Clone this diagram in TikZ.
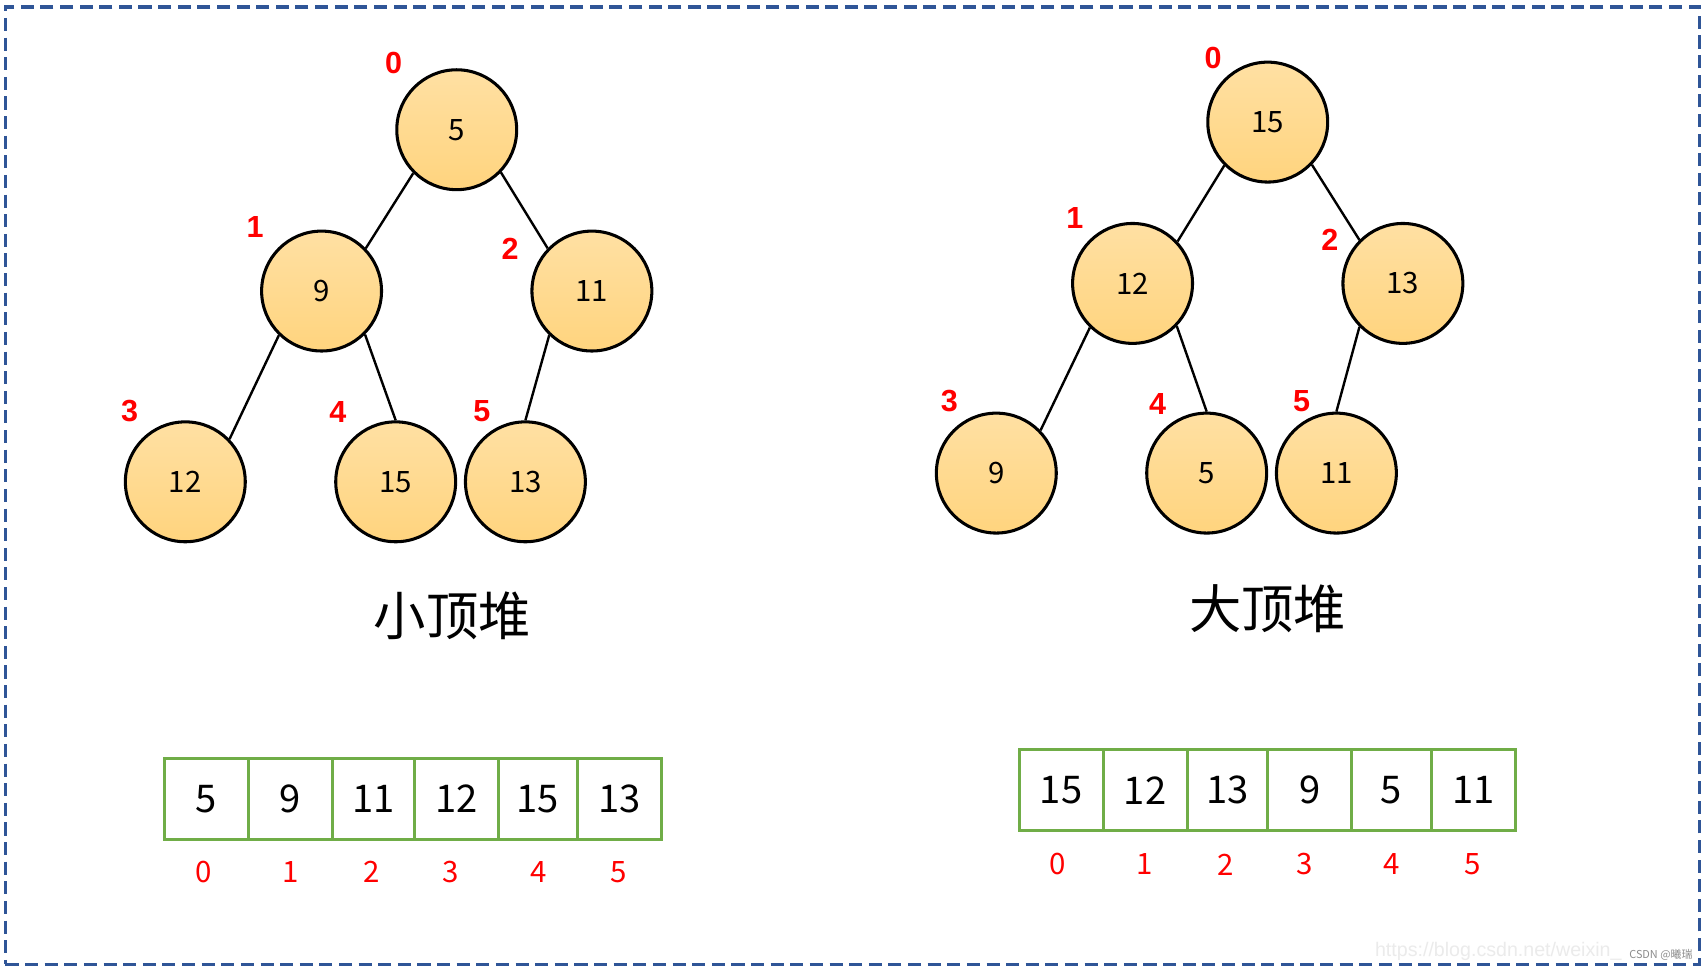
\documentclass[tikz,border=0pt]{standalone}
\usepackage{fontspec}
\setmainfont{Noto Sans CJK SC}
\newfontfamily\lblfont{Liberation Sans}
\usetikzlibrary{shapes.geometric}
\definecolor{heapfillA}{HTML}{FFE0A3}
\definecolor{heapfillB}{HTML}{FFD47E}
\definecolor{arrgreen}{HTML}{70AD47}
\definecolor{frameblue}{HTML}{2F5597}
\definecolor{idxred}{HTML}{FF0000}
\begin{document}
\begin{tikzpicture}[x=0.5pt,y=-0.5pt,
  heapnode/.style={circle,draw=black,line width=1.4pt,minimum size=55pt,inner sep=0pt,
    top color=heapfillA,bottom color=heapfillB,font=\fontsize{13.5}{16}\selectfont},
  heapedge/.style={draw=black,line width=1.1pt},
  poslbl/.style={text=idxred,font=\lblfont\bfseries\fontsize{14}{16}\selectfont,inner sep=0pt},
  cellbox/.style={draw=arrgreen,line width=1.4pt,rectangle,inner sep=0pt,minimum height=37pt,
    font=\fontsize{17.5}{20}\selectfont},
  idxlbl/.style={text=idxred,font=\fontsize{13.5}{16}\selectfont,inner sep=0pt},
  titlelbl/.style={font=\fontsize{24}{28}\selectfont,inner sep=0pt},
  wmark/.style={inner sep=0pt,anchor=east}]
\useasboundingbox (0,0) rectangle (1566,890);
\fill[white] (0,0) rectangle (1566,890);
\node[draw=frameblue,line width=1.5pt,dash pattern=on 6pt off 3pt,rectangle,inner sep=0pt,
  minimum width=777pt,minimum height=439pt] (frame) at (782,445.5) {};

% ---- left heap (min heap)
\node[heapnode] (a0) at (419,119) {5};
\node[heapnode] (a1) at (295,267) {9};
\node[heapnode] (a2) at (543,267) {11};
\node[heapnode] (a3) at (170,442) {12};
\node[heapnode] (a4) at (363,442) {15};
\node[heapnode] (a5) at (482,442) {13};
\draw[heapedge] (a0.225) -- (a1.44);
\draw[heapedge] (a0.316) -- (a2.136);
\draw[heapedge] (a1.226) -- (a3.44);
\draw[heapedge] (a1.315) -- (a4.north);
\draw[heapedge] (a2.226) -- (a5.north);
\node[poslbl] (la0) at (361,58) {0};
\node[poslbl] (la1) at (234,208) {1};
\node[poslbl] (la2) at (468,228) {2};
\node[poslbl] (la3) at (119,377) {3};
\node[poslbl] (la4) at (310,378) {4};
\node[poslbl] (la5) at (442,377) {5};
\node[titlelbl] (ta) at (415,565) {小顶堆};

% left array
\node[cellbox,minimum width=38.5pt] (ca0) at (189.5,733) {5};
\node[cellbox,minimum width=38.5pt] (ca1) at (266.5,733) {9};
\node[cellbox,minimum width=37.5pt] (ca2) at (342.5,733) {11};
\node[cellbox,minimum width=38.5pt] (ca3) at (418.5,733) {12};
\node[cellbox,minimum width=36.5pt] (ca4) at (493.5,733) {15};
\node[cellbox,minimum width=38.5pt] (ca5) at (568.5,733) {13};
\node[idxlbl] (ia0) at (187,800) {0};
\node[idxlbl] (ia1) at (267,800) {1};
\node[idxlbl] (ia2) at (341,800) {2};
\node[idxlbl] (ia3) at (413,800) {3};
\node[idxlbl] (ia4) at (494,800) {4};
\node[idxlbl] (ia5) at (568,800) {5};

% ---- right heap (max heap)
\node[heapnode] (b0) at (1163,112) {15};
\node[heapnode] (b1) at (1039,260) {12};
\node[heapnode] (b2) at (1287,260) {13};
\node[heapnode] (b3) at (914,434) {9};
\node[heapnode] (b4) at (1107,434) {5};
\node[heapnode] (b5) at (1226,434) {11};
\draw[heapedge] (b0.225) -- (b1.43);
\draw[heapedge] (b0.316) -- (b2.135);
\draw[heapedge] (b1.226) -- (b3.44);
\draw[heapedge] (b1.316) -- (b4.north);
\draw[heapedge] (b2.225) -- (b5.north);
\node[poslbl] (lb0) at (1113,53) {0};
\node[poslbl] (lb1) at (986,200) {1};
\node[poslbl] (lb2) at (1220,220) {2};
\node[poslbl] (lb3) at (871,368) {3};
\node[poslbl] (lb4) at (1062,371) {4};
\node[poslbl] (lb5) at (1194,368) {5};
\node[titlelbl] (tb) at (1163,558) {大顶堆};

% right array
\node[cellbox,minimum width=38.5pt] (cb0) at (973.5,725) {15};
\node[cellbox,minimum width=38.5pt] (cb1) at (1050.5,725) {12};
\node[cellbox,minimum width=37pt] (cb2) at (1126,725) {13};
\node[cellbox,minimum width=38.5pt] (cb3) at (1201.5,725) {9};
\node[cellbox,minimum width=36.5pt] (cb4) at (1276.5,725) {5};
\node[cellbox,minimum width=38.5pt] (cb5) at (1351.5,725) {11};
\node[idxlbl] (ib0) at (970,793) {0};
\node[idxlbl] (ib1) at (1050,793) {1};
\node[idxlbl] (ib2) at (1124,793) {2};
\node[idxlbl] (ib3) at (1197,793) {3};
\node[idxlbl] (ib4) at (1277,793) {4};
\node[idxlbl] (ib5) at (1351,793) {5};

% watermark
\node[wmark,text=black!8,font=\lblfont\fontsize{9}{10}\selectfont] (wm1) at (1488,873) {https://blog.csdn.net/weixin\_};
\node[wmark,text=black!45,font=\fontsize{5}{6}\selectfont] (wm2) at (1553,876) {CSDN @曦瑞};
\end{tikzpicture}
\end{document}
